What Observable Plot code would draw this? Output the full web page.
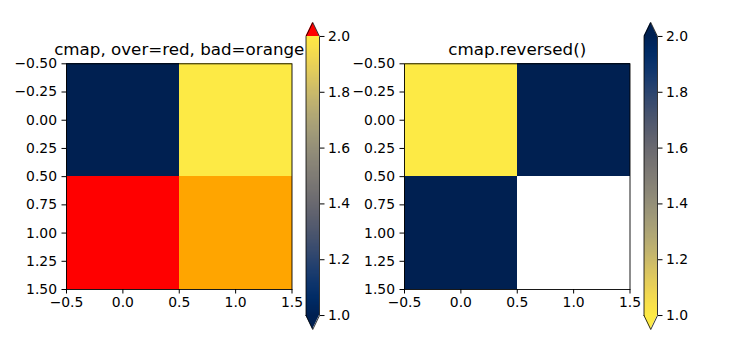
<!DOCTYPE html>
<html><head><meta charset="utf-8">
<script src="https://cdn.jsdelivr.net/npm/d3@7"></script>
<script src="https://cdn.jsdelivr.net/npm/@observablehq/plot@0.6"></script>
<style>
body{margin:0;background:white}
#c{position:relative;width:736px;height:350px;overflow:hidden;background:white}
</style>
</head><body><div id="c"></div><script>
// data
const rowIdx = [0, 0, 1, 1];
const colIdx = [0, 1, 0, 1];
const cellValues = [1, 2, 3, NaN];
const titles = ["cmap, over=red, bad=orange", "cmap.reversed()"];
const xTicks = [-0.5, 0, 0.5, 1, 1.5];
const yTicks = [-0.5, -0.25, 0, 0.25, 0.5, 0.75, 1, 1.25, 1.5];
const cbTicks = [1, 1.2, 1.4, 1.6, 1.8, 2];
const vmin = 1, vmax = 2;
const overColor = "red", badColor = "orange";
const extendFrac = 0.05;

const cmap = d3.interpolateCividis;
const leftColor = {
  type: "linear", domain: [vmin, vmax], clamp: false, unknown: badColor,
  interpolate: t => t > 1 ? overColor : t < 0 ? cmap(0) : cmap(t)
};
const rightColor = {
  type: "linear", domain: [vmin, vmax], clamp: false,
  interpolate: t => cmap(1 - Math.max(0, Math.min(1, t)))
};

const FONT = "DejaVu Sans";
const TICK_FS = 13.9, TITLE_FS = 16.7;
const container = document.getElementById("c");
function place(svg, left) {
  Object.assign(svg.style, {position: "absolute", left: left + "px", top: "0px",
    background: "transparent", overflow: "visible", maxWidth: "none",
    fontFamily: FONT, fontSize: TICK_FS + "px", color: "black"});
  container.appendChild(svg);
}

function heatmap(title, color, left) {
  const cells = cellValues.map((v, i) => ({row: rowIdx[i], col: colIdx[i], value: v}));
  const svg = Plot.plot({
    width: 66 + 225.5 + 40, height: 350,
    marginLeft: 66, marginRight: 40, marginTop: 63.3, marginBottom: 61,
    x: {domain: [-0.5, 1.5], label: null},
    y: {domain: [-0.5, 1.5], reverse: true, label: null},
    color,
    marks: [
      Plot.rect(cells, {x1: d => d.col - 0.5, x2: d => d.col + 0.5, y1: d => d.row - 0.5, y2: d => d.row + 0.5, fill: "value", shapeRendering: "crispEdges"}),
      Plot.frame({stroke: "black", strokeWidth: 0.9}),
      Plot.axisX(xTicks, {anchor: "bottom", tickFormat: d3.format(".1f"), tickSize: 4.5, tickPadding: 3, label: null, fontSize: TICK_FS, stroke: "black"}),
      Plot.axisY(yTicks, {anchor: "left", tickFormat: d3.format(".2f"), tickSize: 4.5, tickPadding: 5, label: null, fontSize: TICK_FS, stroke: "black"}),
      Plot.text([title], {text: d => d, frameAnchor: "top", dy: -14, lineAnchor: "middle", fontSize: TITLE_FS, fill: "black"})
    ]
  });
  place(svg, left);
}

function colorbar(color, left) {
  const n = 256, step = (vmax - vmin) / n;
  const levels = d3.range(n).map(i => vmin + i * step);
  const ext = extendFrac * (vmax - vmin);
  const topPts = [{x: 0, y: vmax}, {x: 0.5, y: vmax + ext}, {x: 1, y: vmax}];
  const botPts = [{x: 0, y: vmin}, {x: 0.5, y: vmin - ext}, {x: 1, y: vmin}];
  const outline = [{x: 0, y: vmin}, {x: 0, y: vmax}, {x: 0.5, y: vmax + ext}, {x: 1, y: vmax},
                   {x: 1, y: vmin}, {x: 0.5, y: vmin - ext}, {x: 0, y: vmin}];
  const svg = Plot.plot({
    width: 15.5 + 13.5 + 50, height: 350,
    marginLeft: 15.5, marginRight: 50, marginTop: 22, marginBottom: 21,
    x: {domain: [0, 1], axis: null, label: null},
    y: {domain: [vmin - ext, vmax + ext], label: null},
    color,
    marks: [
      Plot.rect(levels, {x1: 0, x2: 1, y1: d => d, y2: d => d + step * 1.02, fill: d => d + step / 2, shapeRendering: "crispEdges"}),
      Plot.areaY(topPts, {x: "x", y1: vmax, y2: "y", fill: () => vmax + ext}),
      Plot.areaY(botPts, {x: "x", y1: vmin, y2: "y", fill: () => vmin - ext}),
      Plot.line(outline, {x: "x", y: "y", stroke: "black", strokeWidth: 0.8}),
      Plot.axisY(cbTicks, {anchor: "right", tickFormat: d3.format(".1f"), tickSize: 4.5, tickPadding: 4, label: null, fontSize: TICK_FS, stroke: "black"})
    ]
  });
  place(svg, left);
}

heatmap(titles[0], leftColor, 0.3);
heatmap(titles[1], rightColor, 338.3);
colorbar(leftColor, 290);
colorbar(rightColor, 628);
</script></body></html>
